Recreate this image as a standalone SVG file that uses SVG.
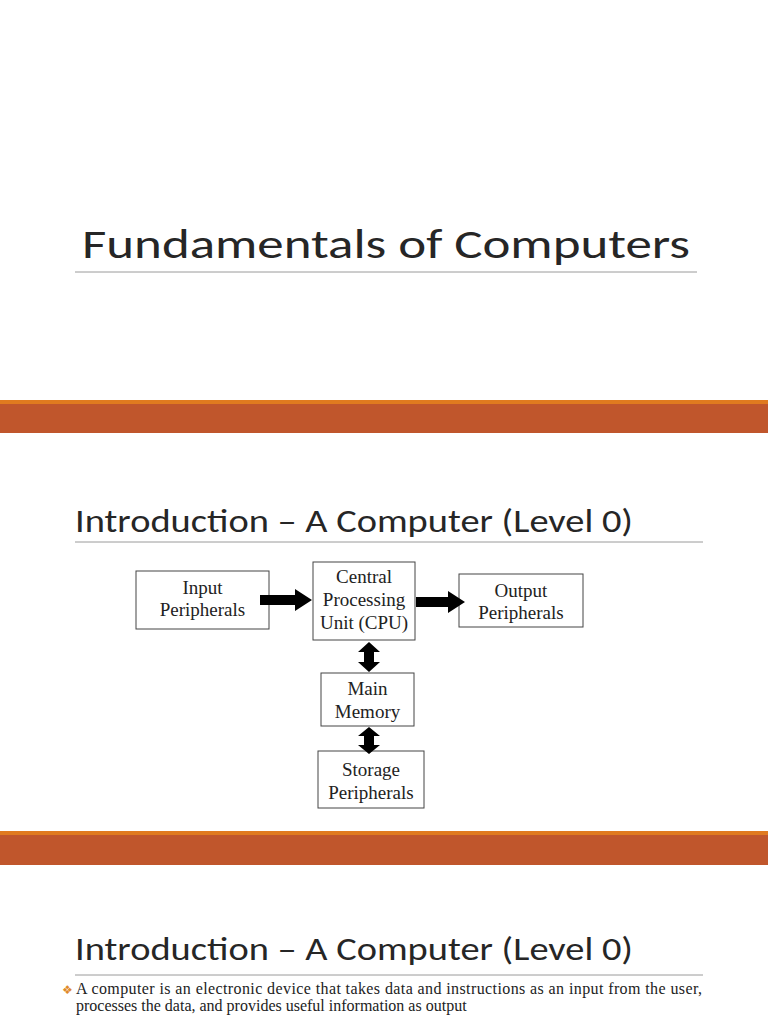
<svg xmlns="http://www.w3.org/2000/svg" width="768" height="1024" viewBox="0 0 768 1024">
<style>
.h{font-family:Calibri,Carlito,"Open Sans","Liberation Sans",sans-serif;fill:#262626}
.rule{stroke:#9a9a9a;stroke-width:1}
.box{fill:#fff;stroke:#444;stroke-width:1}
.t{font-family:"Liberation Serif",serif;font-size:19px;fill:#222;text-anchor:middle}
.bar{fill:#c0562c}
.barTop{fill:#e07a1f}
.p{font-family:"Liberation Serif",serif;font-size:16px;fill:#222}
.arr{fill:#000}
</style>
<rect width="768" height="1024" fill="#fff"/>
<text class="h" x="82" y="258" font-size="40" textLength="608" lengthAdjust="spacingAndGlyphs">Fundamentals of Computers</text>
<line class="rule" x1="75" y1="272" x2="697" y2="272"/>
<rect class="bar" x="0" y="400" width="768" height="33"/>
<rect class="barTop" x="0" y="400" width="768" height="4"/>
<text class="h" x="75" y="532" font-size="32" textLength="558" lengthAdjust="spacingAndGlyphs">Introduction – A Computer (Level 0)</text>
<line class="rule" x1="75" y1="542" x2="703" y2="542"/>
<g id="input"><rect class="box" x="136" y="571" width="133" height="58"/><text class="t" x="202.5" y="594">Input</text><text class="t" x="202.5" y="616">Peripherals</text></g>
<g id="cpu"><rect class="box" x="313" y="562" width="102" height="78"/><text class="t" x="364" y="583">Central</text><text class="t" x="364" y="606">Processing</text><text class="t" x="364" y="629">Unit (CPU)</text></g>
<g id="output"><rect class="box" x="459" y="574" width="124" height="53"/><text class="t" x="521" y="597">Output</text><text class="t" x="521" y="619">Peripherals</text></g>
<g id="memory"><rect class="box" x="321" y="673" width="93" height="53"/><text class="t" x="367.5" y="695">Main</text><text class="t" x="367.5" y="718">Memory</text></g>
<g id="storage"><rect class="box" x="318" y="751" width="106" height="57"/><text class="t" x="371" y="776">Storage</text><text class="t" x="371" y="799">Peripherals</text></g>
<g id="connectors" class="arr">
<path d="M260,595H295V589L312,600L295,611V605H260Z"/>
<path d="M416,597H448V591L465,602L448,613V607H416Z"/>
<path d="M369,642L380,652H374V662H380L369,672L358,662H364V652H358Z"/>
<path d="M369,727L380,736H374V745H380L369,754L358,745H364V736H358Z"/>
</g>
<rect class="bar" x="0" y="831" width="768" height="34"/>
<rect class="barTop" x="0" y="831" width="768" height="4"/>
<text class="h" x="75" y="960" font-size="32" textLength="558" lengthAdjust="spacingAndGlyphs">Introduction – A Computer (Level 0)</text>
<line class="rule" x1="75" y1="975" x2="703" y2="975"/>
<text x="62" y="994" font-size="12" fill="#e08a2a" font-family="DejaVu Sans,sans-serif">❖</text>
<text class="p" x="76" y="994" textLength="626" lengthAdjust="spacing">A computer is an electronic device that takes data and instructions as an input from the user,</text>
<text class="p" x="76" y="1011">processes the data, and provides useful information as output</text>
</svg>
